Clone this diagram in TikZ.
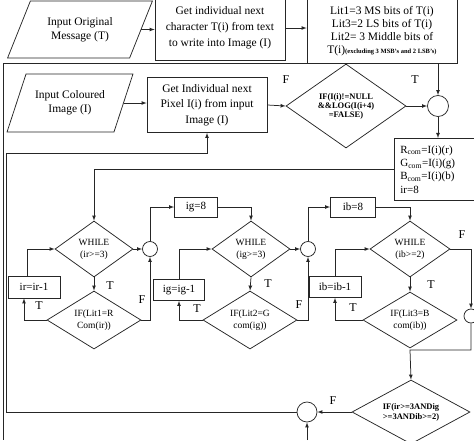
\documentclass[tikz,border=0pt]{standalone}
\usepackage{fontspec}
\setmainfont{Liberation Serif}
\usetikzlibrary{shapes.geometric}

\tikzset{
  proc/.style={draw, align=center, inner sep=1pt, font=\fontsize{11.5}{15.5}\selectfont},
  io/.style={trapezium, trapezium left angle=62, trapezium right angle=118, trapezium stretches=true, draw, align=center, font=\fontsize{11.5}{14}\selectfont},
  decision/.style={diamond, draw, aspect=1.5, inner sep=0pt, align=center, font=\fontsize{9.5}{12}\selectfont},
  merge/.style={circle, draw, inner sep=0pt},
  counter/.style={draw, inner sep=1pt, font=\fontsize{11}{12}\selectfont},
  boldtxt/.style={font=\fontsize{8.5}{9}\selectfont\bfseries},
  tf/.style={font=\fontsize{12}{12}\selectfont}
}

\begin{document}
\begin{tikzpicture}[x=1pt, y=-1pt, >=latex, line width=0.75pt, draw=black!85]
    \useasboundingbox (0,0) rectangle (474,440);

    % text input
    \node[io, minimum width=145, minimum height=57] (msg) at (80,29.5) {Input Original\\Message (T)};
    \node[proc, minimum width=130, minimum height=64, font=\fontsize{11.5}{16}\selectfont] (getchar) at (220,28) {Get individual next\\character T(i) from text\\to write into Image (I)};
    \node[proc, minimum width=150, minimum height=64, font=\fontsize{11.5}{13}\selectfont] (lits) at (382,31) {Lit1=3 MS bits of T(i)\\Lit3=2 LS bits of T(i)\\Lit2= 3 Middle bits of\\T(i){\fontsize{6.5}{7}\selectfont\bfseries(excluding 3 MSB's and 2 LSB's)}};

    % image input
    \node[io, minimum width=126, minimum height=58] (img) at (70,103) {Input Coloured\\Image (I)};
    \node[proc, minimum width=120, minimum height=55] (getpix) at (207,105) {Get Individual next\\Pixel I(i) from input\\Image (I)};
    \node[decision, minimum width=120, minimum height=84, boldtxt] (chk) at (346,106) {IF(I(i)!=NULL\\\&\&LOG(I(i+4)\\=FALSE)};
    \node[merge, minimum size=21] (c1) at (438,106) {};
    \node[proc, anchor=north west, text width=76, inner xsep=6pt, minimum height=62, align=left, font=\fontsize{11}{13.4}\selectfont] (rgb) at (394,138) {R\textsubscript{com}=I(i)(r)\\G\textsubscript{com}=I(i)(g)\\B\textsubscript{com}=I(i)(b)\\ir=8};

    % red
    \node[decision, minimum width=78, minimum height=56] (wr) at (94,249) {WHILE\\(ir>=3)};
    \node[merge, minimum size=15] (cr) at (150,249) {};
    \node[decision, minimum width=94, minimum height=58] (ifr) at (94,320) {IF(Lit1=R\\Com(ir))};
    \node[counter, minimum width=52, minimum height=22] (decr) at (34,287) {ir=ir-1};

    % green
    \node[counter, minimum width=43, minimum height=20] (initg) at (196,207) {ig=8};
    \node[decision, minimum width=78, minimum height=56] (wg) at (251,249) {WHILE\\(ig>=3)};
    \node[merge, minimum size=15] (cg) at (308,249) {};
    \node[decision, minimum width=94, minimum height=58] (ifg) at (250,320) {IF(Lit2=G\\com(ig))};
    \node[counter, minimum width=51, minimum height=21] (decg) at (179,290) {ig=ig-1};

    % blue
    \node[counter, minimum width=45, minimum height=20] (initb) at (353,207) {ib=8};
    \node[decision, minimum width=80, minimum height=56] (wb) at (410,249) {WHILE\\(ib>=2)};
    \node[merge, minimum size=14] (cb) at (471,316) {};
    \node[decision, minimum width=94, minimum height=56] (ifb) at (410,320) {IF(Lit3=B\\com(ib))};
    \node[counter, minimum width=52, minimum height=21] (decb) at (335,287) {ib=ib-1};

    % final check
    \node[decision, minimum width=118, minimum height=64, font=\fontsize{8.5}{10}\selectfont\bfseries] (fin) at (411,412) {IF(ir>=3ANDig\\>=3ANDib>=2)};
    \node[merge, minimum size=20] (cf) at (307,412) {};

    \coordinate (outer) at (3,440);
    \coordinate (loop) at (6,153);
    \coordinate (bend) at (410,350);
    \coordinate (cfin) at (307,440);

    % top flow
    \draw[->] (msg.east) -- (msg.east -| getchar.west);
    \draw[->] (getchar.east) -- (getchar.east -| lits.west);
    \draw[->] (c1 |- lits.south) -- (c1.north);
    \draw (chk.north) -| (outer);
    \draw[->] (img.east) -- (img.east -| getpix.west);
    \draw[->] (getpix.east) -- (chk.west);
    \draw[->] (chk.east) -- (c1.west);
    \draw[->] (c1.south) -- (c1 |- rgb.north);
    \draw[->] (rgb.west) -| (wr.north);

    % red loop
    \draw[->] (wr.east) -- (cr.west);
    \draw[->] (wr.south) -- (ifr.north);
    \draw[->] (ifr.west) -| ([xshift=-10pt]decr.south);
    \draw[->] ([xshift=-7pt]decr.north) |- (wr.west);
    \draw[->] (ifr.east) -| (cr.south);

    % green loop
    \draw[->] (cr.north) |- (initg.west);
    \draw[->] (initg.east) -| (wg.north);
    \draw[->] (wg.east) -- (cg.west);
    \draw[->] (wg.south) -- (ifg.north);
    \draw[->] (ifg.west) -| (decg.south);
    \draw[->] (decg.north) |- (wg.west);
    \draw[->] (ifg.east) -| (cg.south);

    % blue loop
    \draw[->] (cg.north) |- (initb.west);
    \draw[->] (initb.east) -| (wb.north);
    \draw[->] (wb.east) -| (cb.north);
    \draw[->] (wb.south) -- (ifb.north);
    \draw[->] (ifb.west) -| (decb.south);
    \draw[->] (decb.north) |- (wb.west);

    % back to next pixel
    \draw[->] (cb.south) |- (bend) -- (fin.north);
    \draw[->] (fin.west) -- (cf.east);
    \draw[->] (cfin) -- (cf.south);
    \draw[->] (cf.west) -| (loop) -| (getpix.south);

    % T / F labels
    \node[tf] (lf1) at (286,80) {F};
    \node[tf] (lt1) at (415,80) {T};
    \node[tf] (lt2) at (110,286) {T};
    \node[tf] (lt3) at (39,306) {T};
    \node[tf] (lf2) at (142,300) {F};
    \node[tf] (lt4) at (268,284) {T};
    \node[tf] (lt5) at (197,309) {T};
    \node[tf] (lf3) at (299,305) {F};
    \node[tf] (lt6) at (431,285) {T};
    \node[tf] (lt7) at (353,308) {T};
    \node[tf] (lf4) at (462,235) {F};
    \node[tf] (lf5) at (333,401) {F};

\end{tikzpicture}
\end{document}
